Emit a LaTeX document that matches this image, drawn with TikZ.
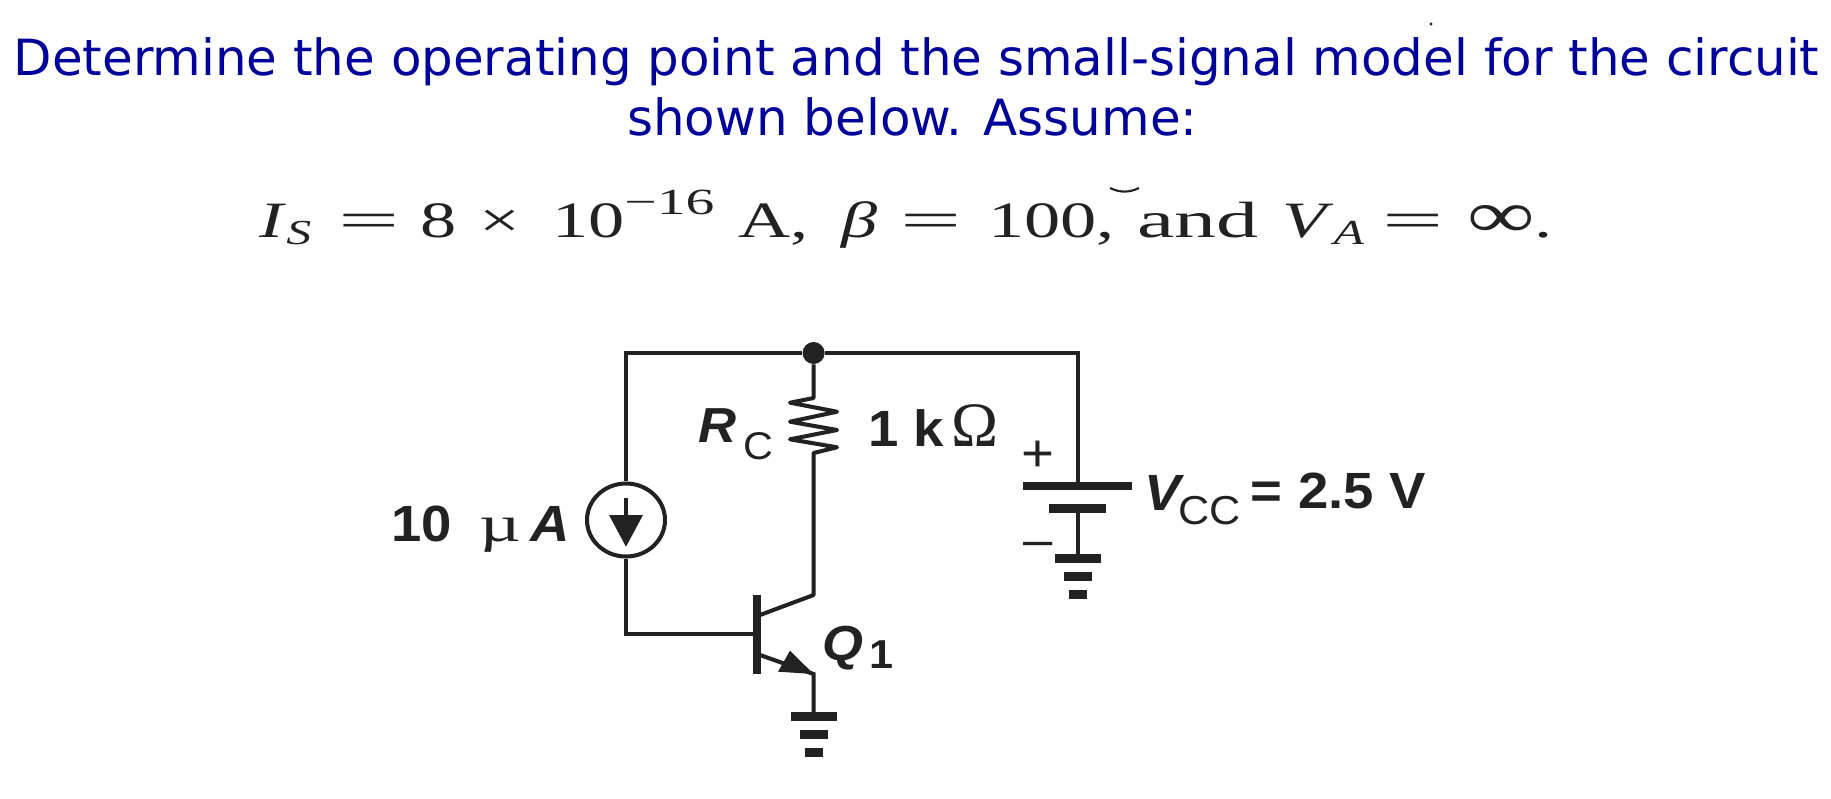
\documentclass[tikz,border=0pt]{standalone}
\usepackage{fontspec}
\usepackage{xcolor}
\usetikzlibrary{calc,positioning,shapes.geometric}
\newfontfamily\headfont{DejaVu Sans}
\newfontfamily\eqfont{Liberation Serif}
\newfontfamily\eqwide[FakeStretch=1.42]{Liberation Serif}
\newfontfamily\labfont[FakeStretch=1.07]{Liberation Sans}
\definecolor{headblue}{HTML}{00009A}
\definecolor{inkdark}{HTML}{222222}
\newcommand{\fsz}[1]{\fontsize{#1}{#1}\selectfont}
\newcommand{\wideeq}{\scalebox{1.5}[1]{=}}
\newcommand{\gndbars}[1]{\foreach \dy/\hw in {0/23,18/14,36/9} \draw[plate] ([shift={(-\hw,\dy)}]#1) -- ([shift={(\hw,\dy)}]#1);}
\tikzset{
	wire/.style={inkdark,line width=2.3pt,line join=miter},
	plate/.style={inkdark,line width=4.8pt},
	lab/.style={inner sep=0pt,anchor=base west,text=inkdark,font=\labfont\bfseries},
	headline/.style={anchor=base,inner sep=0pt,text=headblue,font=\headfont\fsz{28.4}},
	eqpart/.style={inner sep=0pt,anchor=base west,text=inkdark,font=\eqwide\fsz{29}},
}
\begin{document}
\begin{tikzpicture}[x=0.02cm,y=-0.02cm]
		\useasboundingbox (0,0) rectangle (1831,798);
		% heading and data
		\node[headline] (head1) at (916.5,75) {Determine the operating point and the small-signal model for the circuit};
		\node[headline] (head2) at (912.5,135) {shown below. Assume:};
		\foreach \xp/\txt [count=\i] in {259/{\textit{I}\raisebox{-4pt}{\fsz{20}\textit{S}}},338/\wideeq,420/8,479/×,552/10,624/{\raisebox{13pt}{\fsz{21}\scalebox{1.1}[1]{−16}}},738/{A,},841/{\textit{β}},900/\wideeq,988/{100,},1137/{\scalebox{1.16}[1]{and}},1282/{\textit{V}\raisebox{-4pt}{\fsz{20}\textit{A}}},1382/\wideeq,1467/{{\fsz{38}∞}.}}
		\node[eqpart] (eq\i) at (\xp,237) {\txt};
		\fill[inkdark] (1431,24) circle (1.6);
		\draw[inkdark,line width=1.2pt] (1110,188) to[bend right=25] (1139,188);
		% points of the circuit
		\coordinate (tl) at (626,353);
		\coordinate (tr) at (1078,353);
		\node[circle,fill=inkdark,inner sep=0pt,minimum size=22*0.02cm] (top) at (813.6,353) {};
		\node[ellipse,draw=inkdark,line width=2.3pt,inner sep=0pt,minimum width=78*0.02cm,minimum height=73*0.02cm] (src) at (626,520) {};
		\coordinate (bw) at (626,634.3);
		\coordinate (rt) at (813.6,398);
		\coordinate (rb) at (813.6,453);
		\coordinate (cc) at (813.6,595);
		\coordinate (ci) at (760,615);
		\coordinate (b) at (757,634.3);
		\coordinate (ei) at (760,655);
		\coordinate (ee) at (813.6,674);
		\coordinate (eg) at (813.6,716.7);
		\coordinate (bt) at (1078,486);
		\coordinate (bm) at (1078,508.7);
		\coordinate (bg) at (1078,558.7);
		% wires
		\draw[wire] (src.north) -- (tl) -- (top) -- (tr) -- (bt);
		\draw[wire] (src.south) -- (bw) -- (b);
		\draw[wire,line join=round] (top) -- (rt) -- (790,402.7) -- (837,411.7) -- (790,421.7) -- (837,430) -- (790,439.3) -- (837,447.3) -- (rb) -- (cc) -- (ci);
		\draw[wire] (ei) -- (ee) -- (eg);
		\draw[wire] (bm) -- (bg);
		% transistor
		\draw[inkdark,line width=5pt] (757,595) -- (757,674);
		\fill[inkdark] (ee) -- (790,650.7) -- (778,671.7) -- cycle;
		% source arrow
		\draw[wire] (626,498) -- (626,517);
		\fill[inkdark] (609,515) -- (643,515) -- (626,546.7) -- cycle;
		% battery and grounds
		\draw[plate] (1023,486) -- (1132,486);
		\draw[plate] (1049,508.7) -- (1106,508.7);
		\gndbars{eg}
		\gndbars{bg}
		% labels
		\node[lab,font=\labfont\bfseries\fsz{29}] (ia) at (391,541.7) {10};
		\node[lab,font=\eqwide\fsz{29}] (ib) at (479,541.7) {µ};
		\node[lab,font=\labfont\bfseries\itshape\fsz{29}] (ic) at (530,541.7) {A};
		\node[lab,font=\labfont\bfseries\itshape\fsz{28}] (ra) at (698,442.7) {R};
		\node[lab,font=\labfont\fsz{22}] (rc) at (743,459) {C};
		\node[lab,font=\labfont\bfseries\fsz{29}] (rv) at (868,446.7) {1 k};
		\node[lab,font=\eqfont\fsz{36}] (ro) at (951,446.7) {Ω};
		\node[lab,font=\labfont\bfseries\itshape\fsz{28}] (qa) at (822,660) {Q};
		\node[lab,font=\labfont\bfseries\fsz{23}] (qb) at (869,668.3) {1};
		\node[lab,font=\labfont\fsz{30}] (plus) at (1021,471) {+};
		\node[lab,font=\labfont\fsz{28}] (minus) at (1023,556) {\textendash};
		\node[lab,font=\labfont\bfseries\itshape\fsz{29}] (va) at (1144,510) {V};
		\node[lab,font=\labfont\fsz{23}] (vc) at (1178,524) {CC};
		\node[lab,font=\labfont\bfseries\fsz{29}] (ve) at (1250,508.3) {=};
		\node[lab,font=\labfont\bfseries\fsz{29}] (vv) at (1298,508.3) {2.5 V};
\end{tikzpicture}
\end{document}
